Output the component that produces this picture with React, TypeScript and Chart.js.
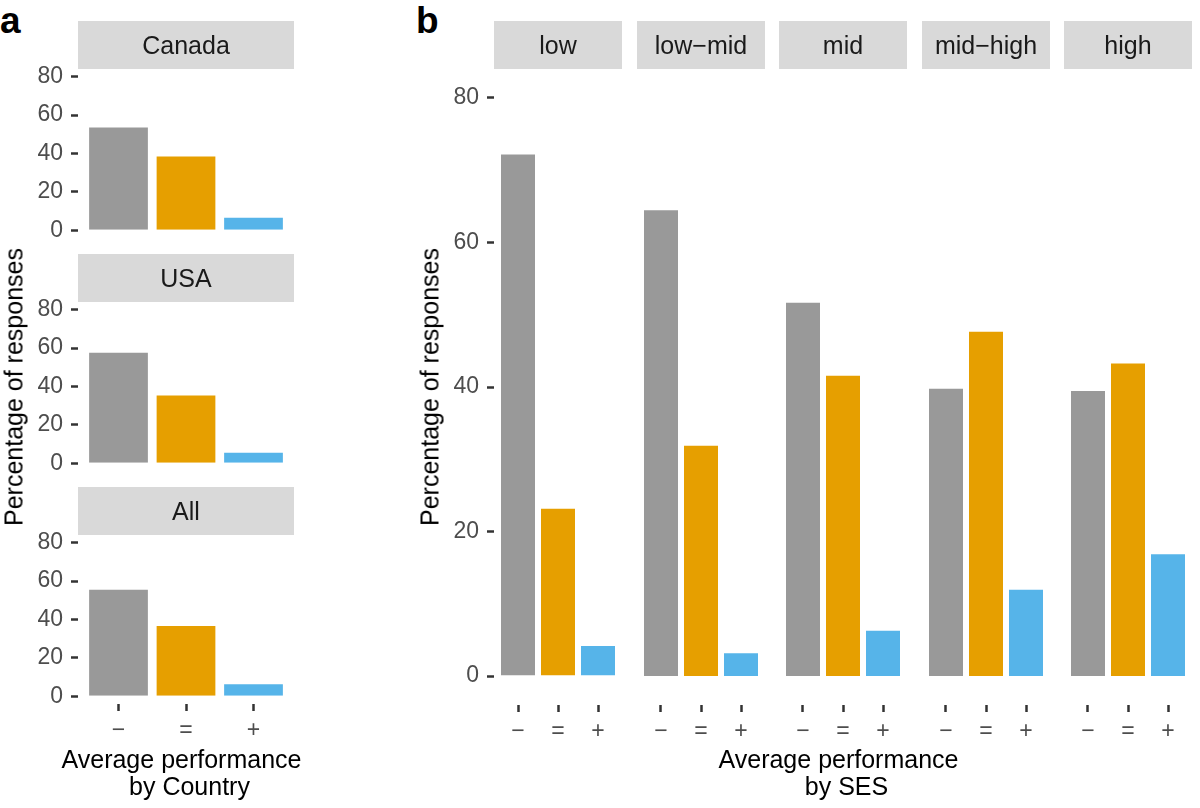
import React, { useEffect, useRef } from "react";
import { Chart, registerables } from "chart.js";

Chart.register(...registerables);

// ---------------- data ----------------
const CATEGORY_LABELS = ["−", "=", "+"];
const BAR_COLORS = ["#999999", "#E69F00", "#56B4E9"];
const Y_TICKS = [0, 20, 40, 60, 80];

const COUNTRY_FACETS = ["Canada", "USA", "All"];
const CANADA_VALUES = [54.0, 38.9, 7.1];
const USA_VALUES = [58.1, 35.8, 6.0];
const ALL_VALUES = [56.0, 37.2, 6.8];

const SES_FACETS = ["low", "low−mid", "mid", "mid−high", "high"];
const SES_LOW = [72.3, 23.3, 4.3];
const SES_LOW_MID = [64.6, 32.0, 3.3];
const SES_MID = [51.8, 41.7, 6.4];
const SES_MID_HIGH = [39.9, 47.8, 12.1];
const SES_HIGH = [39.6, 43.4, 17.0];

const COUNTRY_VALUES = [CANADA_VALUES, USA_VALUES, ALL_VALUES];
const SES_VALUES = [SES_LOW, SES_LOW_MID, SES_MID, SES_MID_HIGH, SES_HIGH];

const Y_TITLE = "Percentage of responses";
const X_TITLE_LINE1 = "Average performance";
const X_TITLE_A_LINE2 = "by Country";
const X_TITLE_B_LINE2 = "by SES";

// ---------------- style / layout ----------------
const FONT = "'Liberation Sans', Arial, Helvetica, sans-serif";
const STRIP_BG = "#D9D9D9";
const STRIP_TEXT = "#1A1A1A";
const TICK_TEXT = "#4D4D4D";
const TICK_MARK = "#333333";

const STRIP_H = 48;
const Y_AXIS_W = 60;
const X_AXIS_H = 45;
const BOTTOM_PAD = 24;

const Y_MIN = -4;
const Y_MAX = 84;

type FacetProps = {
  left: number;
  top: number;
  panelW: number;
  panelH: number;
  label: string;
  values: number[];
  showY: boolean;
  showX: boolean;
};

function makeStripPlugin(label: string) {
  return {
    id: "strip",
    afterDraw(chart: any) {
      const { ctx, chartArea } = chart;
      const { left, right, top } = chartArea;
      ctx.save();
      ctx.fillStyle = STRIP_BG;
      ctx.fillRect(left, top - STRIP_H, right - left, STRIP_H);
      ctx.fillStyle = STRIP_TEXT;
      ctx.font = `25px ${FONT}`;
      ctx.textAlign = "center";
      ctx.textBaseline = "alphabetic";
      ctx.fillText(label, (left + right) / 2, top - STRIP_H / 2 + 9);
      ctx.restore();
    },
  };
}

function Facet(p: FacetProps) {
  const ref = useRef<HTMLCanvasElement>(null);
  const yW = p.showY ? Y_AXIS_W : 0;
  const bottom = p.showX ? X_AXIS_H : BOTTOM_PAD;
  const w = yW + p.panelW;
  const h = STRIP_H + p.panelH + bottom;

  useEffect(() => {
    const tickFont = { family: FONT, size: 23 };
    const cfg: any = {
      type: "bar",
      data: {
        datasets: [
          {
            data: p.values.map((v, i) => ({ x: i + 1, y: v })),
            backgroundColor: BAR_COLORS,
            borderColor: "rgba(255,255,255,0.45)",
            borderWidth: 1,
            borderSkipped: "start",
            categoryPercentage: 1,
            barPercentage: 0.9,
          },
        ],
      },
      options: {
        responsive: false,
        animation: false,
        events: [],
        layout: {
          padding: { top: STRIP_H, bottom: p.showX ? 0 : BOTTOM_PAD, left: 0, right: 0 },
        },
        plugins: {
          legend: { display: false },
          tooltip: { enabled: false },
          title: { display: false },
        },
        scales: {
          x: {
            type: "linear",
            min: 0.4,
            max: 3.6,
            offset: false,
            bounds: "data",
            display: p.showX,
            afterBuildTicks: (s: any) => {
              s.ticks = CATEGORY_LABELS.map((_, i) => ({ value: i + 1 }));
            },
            afterFit: (s: any) => {
              if (p.showX) s.height = X_AXIS_H;
            },
            ticks: {
              callback: (_v: any, i: number) => CATEGORY_LABELS[i],
              font: tickFont,
              color: TICK_TEXT,
              padding: 6,
              autoSkip: false,
              maxRotation: 0,
              minRotation: 0,
            },
            grid: {
              display: true,
              offset: false,
              drawOnChartArea: false,
              drawTicks: true,
              tickLength: 7,
              tickWidth: 2.5,
              tickColor: TICK_MARK,
            },
            border: { display: false },
          },
          y: {
            type: "linear",
            min: Y_MIN,
            max: Y_MAX,
            display: p.showY,
            afterBuildTicks: (s: any) => {
              s.ticks = Y_TICKS.map((v) => ({ value: v }));
            },
            afterFit: (s: any) => {
              if (p.showY) s.width = Y_AXIS_W;
            },
            ticks: {
              font: tickFont,
              color: TICK_TEXT,
              padding: 8,
            },
            grid: {
              display: true,
              drawOnChartArea: false,
              drawTicks: true,
              tickLength: 7,
              tickWidth: 2.5,
              tickColor: TICK_MARK,
            },
            border: { display: false },
          },
        },
      },
      plugins: [makeStripPlugin(p.label)],
    };
    const chart = new Chart(ref.current as HTMLCanvasElement, cfg);
    return () => chart.destroy();
  }, []);

  return (
    <canvas
      ref={ref}
      width={w}
      height={h}
      style={{ position: "absolute", left: p.left - yW, top: p.top, width: w, height: h }}
    />
  );
}

function CenterText(props: { cx: number; top: number; text: string; size?: number }) {
  const size = props.size ?? 25;
  return (
    <div
      style={{
        position: "absolute",
        left: props.cx,
        top: props.top,
        transform: "translateX(-50%)",
        whiteSpace: "nowrap",
        fontFamily: FONT,
        fontSize: size,
        lineHeight: `${size}px`,
        color: "#000",
      }}
    >
      {props.text}
    </div>
  );
}

function VerticalText(props: { cx: number; cy: number; text: string }) {
  return (
    <div
      style={{
        position: "absolute",
        left: props.cx,
        top: props.cy,
        transform: "translate(-50%, -50%) rotate(-90deg)",
        whiteSpace: "nowrap",
        fontFamily: FONT,
        fontSize: 25,
        lineHeight: "25px",
        color: "#000",
      }}
    >
      {props.text}
    </div>
  );
}

function PanelLabel(props: { left: number; text: string }) {
  return (
    <div
      style={{
        position: "absolute",
        left: props.left,
        top: 2,
        fontFamily: FONT,
        fontWeight: "bold",
        fontSize: 37,
        lineHeight: "37px",
        color: "#000",
      }}
    >
      {props.text}
    </div>
  );
}

export default function App() {
  const aLeft = 78;
  const aW = 216;
  const aTops = [21, 254, 487];
  const aPanelH = 169;
  const bLefts = [494, 637, 779, 922, 1064];
  const bW = 128;
  const bPanelH = 636;
  const aCenter = aLeft + aW / 2;
  const bCenter = (bLefts[0] + bLefts[bLefts.length - 1] + bW) / 2;

  return (
    <div
      style={{
        position: "absolute",
        left: 0,
        top: 0,
        width: 1200,
        height: 808,
        background: "#fff",
        overflow: "hidden",
      }}
    >
      <PanelLabel left={0} text="a" />
      <PanelLabel left={416} text="b" />

      {COUNTRY_FACETS.map((name, i) => (
        <Facet
          key={name}
          left={aLeft}
          top={aTops[i]}
          panelW={aW}
          panelH={aPanelH}
          label={name}
          values={COUNTRY_VALUES[i]}
          showY={true}
          showX={i === COUNTRY_FACETS.length - 1}
        />
      ))}

      {SES_FACETS.map((name, i) => (
        <Facet
          key={name}
          left={bLefts[i]}
          top={21}
          panelW={bW}
          panelH={bPanelH}
          label={name}
          values={SES_VALUES[i]}
          showY={i === 0}
          showX={true}
        />
      ))}

      <VerticalText cx={13.8} cy={387} text={Y_TITLE} />
      <VerticalText cx={430.2} cy={387} text={Y_TITLE} />

      <CenterText cx={aCenter - 4.5} top={747} text={X_TITLE_LINE1} />
      <CenterText cx={aCenter + 3.5} top={774} text={X_TITLE_A_LINE2} />
      <CenterText cx={bCenter - 4.5} top={747} text={X_TITLE_LINE1} />
      <CenterText cx={bCenter + 3.5} top={774} text={X_TITLE_B_LINE2} />
    </div>
  );
}
